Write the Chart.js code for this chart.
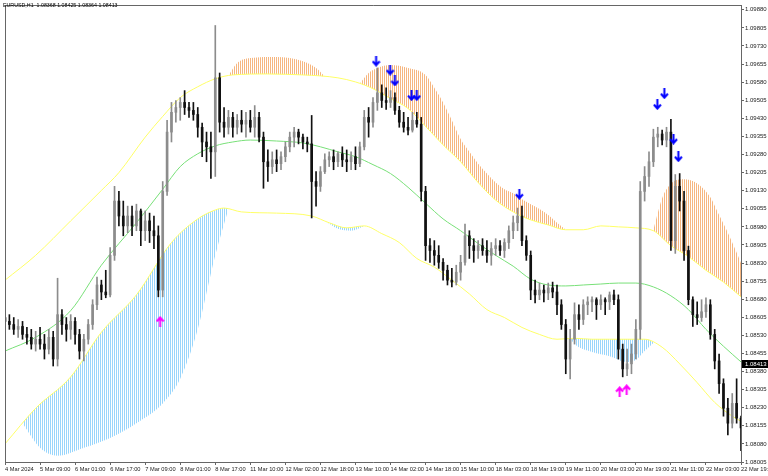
<!DOCTYPE html>
<html>
<head>
<meta charset="utf-8">
<script src="https://cdn.jsdelivr.net/npm/chart.js@4.4.1/dist/chart.umd.min.js"></script>
<style>
  html, body { margin: 0; padding: 0; background: #fff; }
  #wrap { position: relative; width: 768px; height: 476px; }
  #chart { display: block; }
  #title { position: absolute; left: 3px; top: 2px; font: 5.3px "Liberation Sans", Arial, sans-serif; color: #000; white-space: pre; }
</style>
</head>
<body>
<div id="wrap">
  <canvas id="chart" width="768" height="476"></canvas>
  <div id="title"></div>
</div>
<script>
const symbol = "EURUSD,H1";
const lastBar = [1.08368, 1.08425, 1.08364, 1.08413];

// x axis: bar index -> label (H1 bars grouped by 2)
const xTickPos = [0, 8, 16, 24, 32, 40, 48, 56, 64, 72, 80, 88, 96, 104, 112, 120, 128, 136, 144, 152, 160, 168];
const xTickText = ["4 Mar 2024", "5 Mar 09:00", "6 Mar 01:00", "6 Mar 17:00", "7 Mar 09:00", "8 Mar 01:00",
  "8 Mar 17:00", "11 Mar 10:00", "12 Mar 02:00", "12 Mar 18:00", "13 Mar 10:00", "14 Mar 02:00",
  "14 Mar 18:00", "15 Mar 10:00", "18 Mar 03:00", "18 Mar 19:00", "19 Mar 11:00", "20 Mar 03:00",
  "20 Mar 19:00", "21 Mar 11:00", "22 Mar 03:00", "22 Mar 19:00"];

const yTicks = [1.08005, 1.08080, 1.08155, 1.08230, 1.08305, 1.08380, 1.08455, 1.08530, 1.08605, 1.08680,
  1.08755, 1.08830, 1.08905, 1.08980, 1.09055, 1.09130, 1.09205, 1.09280, 1.09355, 1.09430,
  1.09505, 1.09580, 1.09655, 1.09730, 1.09805, 1.09880];

const open = [1.08604,1.08588,1.08575,1.08555,1.08567,1.08534,1.08522,1.08494,1.08514,1.08494,
  1.08473,1.08522,1.08432,1.08616,1.08575,1.08555,1.08588,1.08534,1.08465,1.08514,
  1.08575,1.08657,1.08739,1.08710,1.08698,1.08862,1.09087,1.09025,1.08984,1.09025,
  1.08984,1.09046,1.08964,1.09005,1.08964,1.08943,1.08718,1.09127,1.09373,1.09455,
  1.09475,1.09496,1.09475,1.09463,1.09446,1.09393,1.09332,1.09312,1.09291,1.09598,
  1.09414,1.09393,1.09434,1.09393,1.09422,1.09406,1.09422,1.09393,1.09434,1.09352,
  1.09250,1.09230,1.09258,1.09242,1.09271,1.09312,1.09352,1.09373,1.09352,1.09332,
  1.09324,1.09168,1.09148,1.09209,1.09258,1.09271,1.09250,1.09283,1.09258,1.09250,
  1.09271,1.09242,1.09312,1.09434,1.09414,1.09496,1.09536,1.09504,1.09496,1.09516,
  1.09463,1.09414,1.09393,1.09381,1.09422,1.09406,1.09127,1.08902,1.08882,1.08862,
  1.08833,1.08800,1.08759,1.08751,1.08792,1.08833,1.08943,1.08902,1.08882,1.08902,
  1.08882,1.08862,1.08890,1.08902,1.08882,1.08915,1.08964,1.08997,1.09025,1.08923,
  1.08862,1.08718,1.08698,1.08718,1.08706,1.08727,1.08710,1.08657,1.08575,1.08432,
  1.08514,1.08616,1.08596,1.08657,1.08669,1.08678,1.08657,1.08678,1.08669,1.08698,
  1.08678,1.08473,1.08391,1.08412,1.08453,1.08555,1.09127,1.09189,1.09250,1.09352,
  1.09365,1.09340,1.09373,1.08923,1.09148,1.09087,1.08882,1.08678,1.08616,1.08604,
  1.08628,1.08657,1.08534,1.08424,1.08330,1.08228,1.08166,1.08248,1.08187];
const high = [1.08628,1.08616,1.08604,1.08596,1.08588,1.08563,1.08555,1.08547,1.08563,1.08534,
  1.08555,1.08547,1.08767,1.08637,1.08604,1.08616,1.08604,1.08555,1.08534,1.08596,
  1.08678,1.08772,1.08759,1.08800,1.08894,1.09148,1.09127,1.09087,1.09066,1.09066,
  1.09074,1.09054,1.09046,1.09037,1.09025,1.08984,1.09168,1.09422,1.09496,1.09504,
  1.09516,1.09545,1.09496,1.09496,1.09475,1.09410,1.09373,1.09373,1.09815,1.09618,
  1.09475,1.09463,1.09455,1.09446,1.09463,1.09455,1.09463,1.09483,1.09455,1.09373,
  1.09299,1.09291,1.09299,1.09291,1.09332,1.09373,1.09393,1.09385,1.09365,1.09352,
  1.09442,1.09209,1.09230,1.09283,1.09291,1.09299,1.09291,1.09312,1.09299,1.09291,
  1.09312,1.09332,1.09463,1.09475,1.09516,1.09639,1.09569,1.09557,1.09545,1.09536,
  1.09480,1.09455,1.09434,1.09455,1.09455,1.09434,1.09148,1.08931,1.08923,1.08902,
  1.08849,1.08821,1.08808,1.08821,1.08862,1.08992,1.08964,1.08931,1.08923,1.08931,
  1.08923,1.08915,1.08931,1.08923,1.08931,1.08984,1.09025,1.09058,1.09066,1.08943,
  1.08880,1.08759,1.08747,1.08739,1.08747,1.08751,1.08739,1.08678,1.08596,1.08555,
  1.08665,1.08657,1.08678,1.08690,1.08690,1.08686,1.08698,1.08686,1.08710,1.08718,
  1.08698,1.08494,1.08473,1.08494,1.08596,1.09168,1.09230,1.09291,1.09385,1.09393,
  1.09381,1.09393,1.09426,1.09197,1.09201,1.09127,1.08900,1.08690,1.08669,1.08678,
  1.08686,1.08678,1.08555,1.08453,1.08350,1.08269,1.08289,1.08350,1.08195];
const low = [1.08563,1.08555,1.08534,1.08522,1.08514,1.08494,1.08473,1.08465,1.08473,1.08432,
  1.08453,1.08403,1.08403,1.08534,1.08506,1.08514,1.08494,1.08432,1.08424,1.08494,
  1.08555,1.08637,1.08678,1.08686,1.08690,1.08841,1.08984,1.08943,1.08956,1.08943,
  1.08964,1.08902,1.08923,1.08915,1.08890,1.08690,1.08690,1.09110,1.09332,1.09414,
  1.09422,1.09446,1.09434,1.09422,1.09352,1.09271,1.09250,1.09181,1.09189,1.09373,
  1.09352,1.09365,1.09352,1.09365,1.09373,1.09352,1.09373,1.09352,1.09332,1.09140,
  1.09168,1.09201,1.09209,1.09217,1.09250,1.09291,1.09312,1.09324,1.09303,1.09291,
  1.09017,1.09066,1.09127,1.09201,1.09230,1.09217,1.09230,1.09230,1.09209,1.09217,
  1.09217,1.09230,1.09299,1.09352,1.09393,1.09463,1.09475,1.09467,1.09475,1.09446,
  1.09393,1.09373,1.09361,1.09373,1.09393,1.09087,1.08841,1.08833,1.08821,1.08808,
  1.08759,1.08739,1.08731,1.08739,1.08759,1.08821,1.08849,1.08833,1.08849,1.08862,
  1.08833,1.08821,1.08862,1.08862,1.08853,1.08890,1.08931,1.08964,1.08902,1.08841,
  1.08678,1.08665,1.08678,1.08669,1.08678,1.08686,1.08616,1.08555,1.08371,1.08350,
  1.08494,1.08555,1.08575,1.08616,1.08628,1.08596,1.08637,1.08616,1.08637,1.08657,
  1.08432,1.08358,1.08363,1.08371,1.08432,1.08514,1.09087,1.09148,1.09230,1.09312,
  1.09320,1.09312,1.08882,1.08870,1.09046,1.08841,1.08657,1.08567,1.08575,1.08588,
  1.08604,1.08514,1.08391,1.08289,1.08195,1.08117,1.08146,1.08166,1.08052];
const close = [1.08588,1.08575,1.08555,1.08567,1.08534,1.08522,1.08494,1.08514,1.08494,1.08473,
  1.08522,1.08432,1.08616,1.08575,1.08555,1.08588,1.08534,1.08465,1.08514,1.08575,
  1.08657,1.08739,1.08710,1.08698,1.08862,1.09087,1.09025,1.08984,1.09025,1.08984,
  1.09046,1.08964,1.09005,1.08964,1.08943,1.08718,1.09127,1.09373,1.09455,1.09475,
  1.09496,1.09475,1.09463,1.09446,1.09393,1.09332,1.09312,1.09291,1.09598,1.09414,
  1.09393,1.09434,1.09393,1.09422,1.09406,1.09422,1.09393,1.09434,1.09352,1.09250,
  1.09230,1.09258,1.09242,1.09271,1.09312,1.09352,1.09373,1.09352,1.09332,1.09324,
  1.09168,1.09148,1.09209,1.09258,1.09271,1.09250,1.09283,1.09258,1.09250,1.09271,
  1.09242,1.09312,1.09434,1.09414,1.09496,1.09536,1.09504,1.09496,1.09516,1.09463,
  1.09414,1.09393,1.09381,1.09422,1.09406,1.09127,1.08902,1.08882,1.08862,1.08833,
  1.08800,1.08759,1.08751,1.08792,1.08833,1.08943,1.08902,1.08882,1.08902,1.08882,
  1.08862,1.08890,1.08902,1.08882,1.08915,1.08964,1.08997,1.09025,1.08923,1.08862,
  1.08718,1.08698,1.08718,1.08706,1.08727,1.08710,1.08657,1.08575,1.08432,1.08514,
  1.08616,1.08596,1.08657,1.08669,1.08678,1.08657,1.08678,1.08669,1.08698,1.08678,
  1.08473,1.08391,1.08412,1.08453,1.08555,1.09127,1.09189,1.09250,1.09352,1.09365,
  1.09340,1.09373,1.08923,1.09148,1.09087,1.08882,1.08678,1.08616,1.08604,1.08628,
  1.08657,1.08534,1.08424,1.08330,1.08228,1.08166,1.08248,1.08187,1.08146];

// envelope lines
const upperX = [0,7,15,22,26,32,36,40,44,48,52,60,68,72,76,80,84,88,92,96,100,104,108,112,116,120,124,128,132,136,140,144,148,152,156,160,164,168];
const upperY = [1.08759,1.08862,1.09005,1.09131,1.09205,1.09352,1.09438,1.09516,1.09561,1.09594,
  1.09610,1.09614,1.09610,1.09606,1.09598,1.09581,1.09553,1.09512,1.09471,1.09397,
  1.09320,1.09250,1.09164,1.09091,1.09042,1.09009,1.08988,1.08968,1.08968,1.08984,
  1.08980,1.08976,1.08964,1.08902,1.08857,1.08800,1.08751,1.08690];
const midX = [0,7,15,22,30,36,40,44,48,52,56,62,68,72,76,80,84,88,92,96,100,104,108,112,116,120,124,128,132,136,140,144,148,152,156,160,164,168];
const midY = [1.08465,1.08522,1.08633,1.08821,1.08997,1.09136,1.09230,1.09283,1.09316,1.09332,
  1.09340,1.09336,1.09328,1.09312,1.09291,1.09271,1.09238,1.09201,1.09144,1.09078,
  1.09013,1.08964,1.08911,1.08862,1.08817,1.08763,1.08739,1.08735,1.08739,1.08743,
  1.08747,1.08747,1.08731,1.08694,1.08637,1.08555,1.08485,1.08420];
const lowerX = [0,7,15,22,30,38,44,48,50,54,62,70,74,78,82,86,90,94,98,102,106,110,114,118,122,126,130,134,138,142,146,150,154,158,162,166,168];
const lowerY = [1.08080,1.08228,1.08358,1.08543,1.08698,1.08915,1.09013,1.09050,1.09058,1.09042,
  1.09037,1.09025,1.08997,1.08976,1.08984,1.08952,1.08915,1.08849,1.08813,1.08759,
  1.08702,1.08637,1.08604,1.08563,1.08534,1.08514,1.08518,1.08514,1.08514,1.08514,
  1.08514,1.08481,1.08412,1.08334,1.08252,1.08195,1.08174];

// histogram outer edges (orange above upper line, blue below lower line)
const orangeAX = [51,53,56,62,68,71,73];
const orangeAY = [1.09606,1.09659,1.09680,1.09684,1.09667,1.09639,1.09604];
const orangeBX = [81,83,85,88,92,96,98,100,102,104,106,108,110,112,114,116,118,120,122,124,126,128];
const orangeBY = [1.09574,1.09618,1.09639,1.09651,1.09639,1.09610,1.09557,1.09496,1.09422,1.09344,
  1.09291,1.09242,1.09201,1.09164,1.09136,1.09119,1.09095,1.09074,1.09054,1.09029,1.08997,1.08968];
const orangeCX = [148,149,150,151,153,155,158,161,163,165,167,168];
const orangeCY = [1.08966,1.09037,1.09099,1.09136,1.09172,1.09177,1.09160,1.09103,1.09029,1.08956,1.08874,1.08829];
const blueAX = [4,8,12,18,24,30,36,40,44,48,51];
const blueAY = [1.08166,1.08064,1.08031,1.08064,1.08105,1.08166,1.08248,1.08350,1.08555,1.08862,1.09054];
const blueBX = [73,76,79,82];
const blueBY = [1.09005,1.08972,1.08964,1.08984];
const blueCX = [129,130,134,138,142,144,146,148];
const blueCY = [1.08518,1.08494,1.08461,1.08444,1.08420,1.08428,1.08465,1.08498];

// signal arrows
const downX = [84.7, 87.9, 89.0, 92.8, 94.0, 117.4, 148.9, 150.5, 152.6, 153.7];
const downY = [1.09667, 1.09630, 1.09585, 1.09524, 1.09524, 1.09115, 1.09487, 1.09532, 1.09344, 1.09271];
const upX = [35.4, 140.3, 141.9];
const upY = [1.08588, 1.08297, 1.08305];

document.getElementById("title").textContent = symbol + "  " + lastBar.map(v => v.toFixed(5)).join(" ");

const canvas = document.getElementById("chart");
const ctx = canvas.getContext("2d");

function stripes(color) {
  const c = document.createElement("canvas");
  c.width = 2; c.height = 1;
  const g = c.getContext("2d");
  g.fillStyle = color;
  g.fillRect(0, 0, 1, 1);
  return ctx.createPattern(c, "repeat");
}

function arrowIcon(color, down) {
  const c = document.createElement("canvas");
  c.width = 9; c.height = 11;
  const g = c.getContext("2d");
  if (!down) { g.translate(0, 11); g.scale(1, -1); }
  g.strokeStyle = color;
  g.lineWidth = 2;
  g.beginPath();
  g.moveTo(4.5, 0); g.lineTo(4.5, 10);
  g.moveTo(1, 5.5); g.lineTo(4.5, 9.5); g.lineTo(8, 5.5);
  g.stroke();
  return c;
}

const pts = (xs, ys) => xs.map((x, k) => ({ x, y: ys[k] }));
const idx = close.map((_, i) => i);
const barColor = idx.map(i => close[i] < open[i] ? "#111111" : "#8c8c8c");

const orange = stripes("rgba(244,164,96,0.8)");
const blue = stripes("rgba(135,206,250,0.85)");

const band = (data, color) => ({
  type: "line", data, borderColor: color, borderWidth: 1, pointRadius: 0,
  fill: false, cubicInterpolationMode: "monotone", order: 5
});
const hist = (data, target, pattern) => ({
  type: "line", data, borderWidth: 0, borderColor: "rgba(0,0,0,0)", pointRadius: 0,
  backgroundColor: pattern, fill: { target }, cubicInterpolationMode: "monotone", order: 10
});

const frame = {
  id: "frame",
  afterDraw(chart) {
    const { ctx, chartArea: a, scales: { y } } = chart;
    ctx.save();
    ctx.strokeStyle = "#666";
    ctx.lineWidth = 1;
    ctx.beginPath();
    ctx.moveTo(a.left + 0.5, a.bottom);
    ctx.lineTo(a.left + 0.5, a.top + 0.5);
    ctx.lineTo(a.right, a.top + 0.5);
    ctx.stroke();
    const py = Math.round(y.getPixelForValue(lastBar[3]));
    ctx.fillStyle = "#000";
    ctx.fillRect(a.right + 1, py - 4, 27, 8);
    ctx.fillStyle = "#fff";
    ctx.font = '6px "Liberation Sans"';
    ctx.textBaseline = "middle";
    ctx.fillText(lastBar[3].toFixed(5), a.right + 4, py + 0.5);
    ctx.restore();
  }
};

new Chart(ctx, {
  type: "bar",
  data: {
    datasets: [
      band(pts(midX, midY), "#78e078"),
      band(pts(upperX, upperY), "#ffff66"),
      band(pts(lowerX, lowerY), "#ffff66"),
      hist(pts(orangeAX, orangeAY), 1, orange),
      hist(pts(orangeBX, orangeBY), 1, orange),
      hist(pts(orangeCX, orangeCY), 1, orange),
      hist(pts(blueAX, blueAY), 2, blue),
      hist(pts(blueBX, blueBY), 2, blue),
      hist(pts(blueCX, blueCY), 2, blue),
      {
        type: "bar", data: idx.map(i => ({ x: i, y: [low[i], high[i]] })),
        backgroundColor: barColor, barThickness: 1, grouped: false, order: 2
      },
      {
        type: "bar", data: idx.map(i => ({ x: i, y: [open[i], close[i]] })),
        backgroundColor: barColor, barThickness: 2, minBarLength: 1, grouped: false, order: 1
      },
      { type: "scatter", data: pts(downX, downY), pointStyle: arrowIcon("#0000ff", true), order: 0 },
      { type: "scatter", data: pts(upX, upY), pointStyle: arrowIcon("#ff00ff", false), order: 0 }
    ]
  },
  options: {
    responsive: false,
    animation: false,
    devicePixelRatio: 1,
    layout: { padding: { left: 1, top: 1, right: 0, bottom: 0 } },
    plugins: { legend: { display: false }, tooltip: { enabled: false } },
    scales: {
      x: {
        type: "linear", min: 0, max: 168, offset: false,
        grid: { drawOnChartArea: false, tickLength: 3, color: "#666", offset: false },
        border: { color: "#666" },
        afterBuildTicks: s => { s.ticks = xTickPos.map(v => ({ value: v })); },
        afterFit: s => { s.height = 14; s.paddingLeft = 0; s.paddingRight = 0; },
        ticks: {
          autoSkip: false, maxRotation: 0, minRotation: 0, align: "start", padding: 1,
          color: "#222", font: { family: "Liberation Sans", size: 5.7 },
          callback: v => xTickText[xTickPos.indexOf(v)]
        }
      },
      y: {
        position: "right", min: 1.08005, max: 1.09900,
        grid: { drawOnChartArea: false, tickLength: 3, color: "#666" },
        border: { color: "#666" },
        afterBuildTicks: s => { s.ticks = yTicks.map(v => ({ value: v })); },
        afterFit: s => { s.width = 27; s.paddingTop = 0; s.paddingBottom = 0; },
        ticks: {
          autoSkip: false, padding: 1, color: "#222",
          font: { family: "Liberation Sans", size: 6 },
          callback: v => v.toFixed(5)
        }
      }
    }
  },
  plugins: [frame]
});
</script>
</body>
</html>
